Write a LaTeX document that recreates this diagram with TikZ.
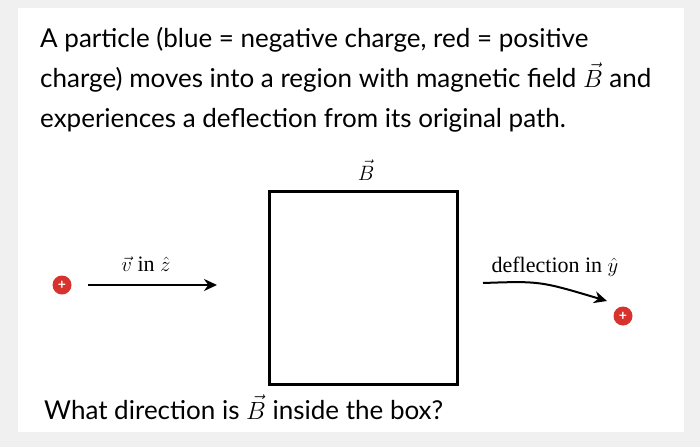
\documentclass[tikz,border=0pt]{standalone}
\usepackage{fontspec}
\setmainfont{Lato}
\newfontfamily\serifl{Liberation Serif}
\usepackage{amsmath}
\usetikzlibrary{arrows.meta}
\definecolor{pos}{RGB}{215,50,45}
\tikzset{
  txt/.style={anchor=base west,inner sep=0,font=\fontsize{26}{40}\selectfont},
  lab/.style={inner sep=0,font=\fontsize{22}{24}\selectfont\serifl},
  arr/.style={line width=2pt,-{Stealth[length=13pt,width=12pt]}},
  charge/.style={circle,fill=pos,minimum size=19pt,inner sep=0,text=white,font=\bfseries\fontsize{14}{14}\selectfont}
}
\begin{document}
\begin{tikzpicture}[x=1pt,y=-1pt]
\useasboundingbox (0,0) rectangle (700,447);
\fill[gray!12] (0,0) rectangle (700,447);
\fill[white] (18,8) rectangle (684,432);
\node[txt] (l1) at (40,47) {A particle (blue = negative charge, red = positive};
\node[txt] (l2) at (40,87) {charge) moves into a region with magnetic field $\vec{B}$ and};
\node[txt] (l3) at (40,127) {experiences a deflection from its original path.};
\node[lab] (bl) at (366,170) {$\vec{B}$};
\node[draw,line width=3pt,minimum width=188pt,minimum height=193pt,inner sep=0] (box) at (363,288) {};
\node[charge] (p1) at (62,285) {+};
\coordinate (a1) at (88,285);
\coordinate (a2) at (217,285);
\draw[arr] (a1) -- (a2);
\node[lab] (vl) at (146,264) {$\vec{v}$ in $\hat{z}$};
\node[lab] (dl) at (555,267) {deflection in $\hat{y}$};
\coordinate (c1) at (483,283);
\coordinate (c2) at (607,301);
\draw[arr] (c1) .. controls (540,281) .. (c2);
\node[charge] (p2) at (623,316) {+};
\node[txt] (q) at (44,419) {What direction is $\vec{B}$ inside the box?};
\end{tikzpicture}
\end{document}
